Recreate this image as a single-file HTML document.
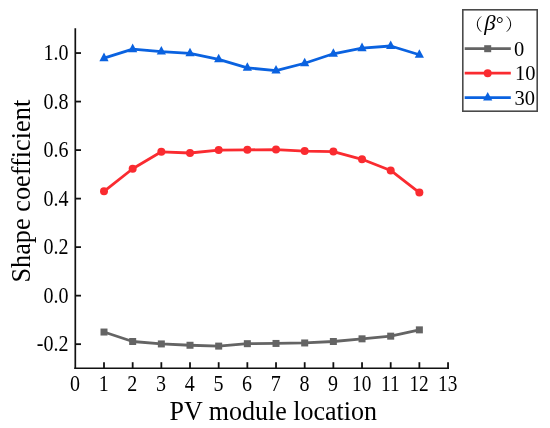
<!DOCTYPE html>
<html><head><meta charset="utf-8"><style>
html,body{margin:0;padding:0;background:#fff;}
svg{display:block;}
</style></head><body>
<svg width="550" height="428" viewBox="0 0 550 428">
<rect width="550" height="428" fill="#fff"/>
<g stroke="#111" stroke-width="1.8" fill="none">
<line x1="75.3" y1="28.2" x2="75.3" y2="369" stroke-width="1.7"/>
<line x1="74.3" y1="368.35" x2="449" y2="368.35" stroke-width="1.5"/>
<line x1="75" y1="53.05" x2="81" y2="53.05"/>
<line x1="75" y1="101.57" x2="81" y2="101.57"/>
<line x1="75" y1="150.09" x2="81" y2="150.09"/>
<line x1="75" y1="198.61" x2="81" y2="198.61"/>
<line x1="75" y1="247.13" x2="81" y2="247.13"/>
<line x1="75" y1="295.65000000000003" x2="81" y2="295.65000000000003"/>
<line x1="75" y1="344.17" x2="81" y2="344.17"/>
<line x1="104.00" y1="368" x2="104.00" y2="362.2"/>
<line x1="132.67" y1="368" x2="132.67" y2="362.2"/>
<line x1="161.34" y1="368" x2="161.34" y2="362.2"/>
<line x1="190.01" y1="368" x2="190.01" y2="362.2"/>
<line x1="218.68" y1="368" x2="218.68" y2="362.2"/>
<line x1="247.35" y1="368" x2="247.35" y2="362.2"/>
<line x1="276.02" y1="368" x2="276.02" y2="362.2"/>
<line x1="304.69" y1="368" x2="304.69" y2="362.2"/>
<line x1="333.36" y1="368" x2="333.36" y2="362.2"/>
<line x1="362.03" y1="368" x2="362.03" y2="362.2"/>
<line x1="390.70" y1="368" x2="390.70" y2="362.2"/>
<line x1="419.37" y1="368" x2="419.37" y2="362.2"/>
<line x1="448.04" y1="368" x2="448.04" y2="362.2"/>
</g>
<g font-family="'Liberation Serif', serif" font-size="23" fill="#000">
<text transform="translate(68.4,60.2) scale(0.87,1)" text-anchor="end">1.0</text>
<text transform="translate(68.4,108.8) scale(0.87,1)" text-anchor="end">0.8</text>
<text transform="translate(68.4,157.3) scale(0.87,1)" text-anchor="end">0.6</text>
<text transform="translate(68.4,205.8) scale(0.87,1)" text-anchor="end">0.4</text>
<text transform="translate(68.4,254.3) scale(0.87,1)" text-anchor="end">0.2</text>
<text transform="translate(68.4,302.9) scale(0.87,1)" text-anchor="end">0.0</text>
<text transform="translate(68.4,351.4) scale(0.87,1)" text-anchor="end">-0.2</text>
<text transform="translate(75.03,391) scale(0.87,1)" text-anchor="middle">0</text>
<text transform="translate(103.70,391) scale(0.87,1)" text-anchor="middle">1</text>
<text transform="translate(132.37,391) scale(0.87,1)" text-anchor="middle">2</text>
<text transform="translate(161.04,391) scale(0.87,1)" text-anchor="middle">3</text>
<text transform="translate(189.71,391) scale(0.87,1)" text-anchor="middle">4</text>
<text transform="translate(218.38,391) scale(0.87,1)" text-anchor="middle">5</text>
<text transform="translate(247.05,391) scale(0.87,1)" text-anchor="middle">6</text>
<text transform="translate(275.72,391) scale(0.87,1)" text-anchor="middle">7</text>
<text transform="translate(304.39,391) scale(0.87,1)" text-anchor="middle">8</text>
<text transform="translate(333.06,391) scale(0.87,1)" text-anchor="middle">9</text>
<text transform="translate(361.73,391) scale(0.84,1)" text-anchor="middle">10</text>
<text transform="translate(390.40,391) scale(0.84,1)" text-anchor="middle">11</text>
<text transform="translate(419.07,391) scale(0.84,1)" text-anchor="middle">12</text>
<text transform="translate(447.74,391) scale(0.84,1)" text-anchor="middle">13</text>
</g>
<g font-family="'Liberation Serif', serif" font-size="26" fill="#000">
<text transform="translate(169.5,419.5) scale(0.963,1)" font-size="27">PV module location</text>
<text transform="translate(29.6,282.6) rotate(-90)" font-size="26.3">Shape coefficient</text>
</g>
<polyline points="104.00,332.04 132.67,341.50 161.34,343.93 190.01,345.26 218.68,346.11 247.35,343.68 276.02,343.44 304.69,342.96 333.36,341.50 362.03,338.83 390.70,336.16 419.37,329.86" fill="none" stroke="#646464" stroke-width="2.8" stroke-linejoin="round"/>
<g fill="#646464">
<rect x="100.50" y="328.54" width="7" height="7"/>
<rect x="129.17" y="338.00" width="7" height="7"/>
<rect x="157.84" y="340.43" width="7" height="7"/>
<rect x="186.51" y="341.76" width="7" height="7"/>
<rect x="215.18" y="342.61" width="7" height="7"/>
<rect x="243.85" y="340.18" width="7" height="7"/>
<rect x="272.52" y="339.94" width="7" height="7"/>
<rect x="301.19" y="339.46" width="7" height="7"/>
<rect x="329.86" y="338.00" width="7" height="7"/>
<rect x="358.53" y="335.33" width="7" height="7"/>
<rect x="387.20" y="332.66" width="7" height="7"/>
<rect x="415.87" y="326.36" width="7" height="7"/>
</g>
<polyline points="104.00,191.33 132.67,168.77 161.34,151.79 190.01,153.00 218.68,150.09 247.35,149.85 276.02,149.60 304.69,151.06 333.36,151.55 362.03,159.31 390.70,170.47 419.37,192.54" fill="none" stroke="#FA2B30" stroke-width="2.8" stroke-linejoin="round"/>
<g fill="#FA2B30">
<circle cx="104.00" cy="191.33" r="4"/>
<circle cx="132.67" cy="168.77" r="4"/>
<circle cx="161.34" cy="151.79" r="4"/>
<circle cx="190.01" cy="153.00" r="4"/>
<circle cx="218.68" cy="150.09" r="4"/>
<circle cx="247.35" cy="149.85" r="4"/>
<circle cx="276.02" cy="149.60" r="4"/>
<circle cx="304.69" cy="151.06" r="4"/>
<circle cx="333.36" cy="151.55" r="4"/>
<circle cx="362.03" cy="159.31" r="4"/>
<circle cx="390.70" cy="170.47" r="4"/>
<circle cx="419.37" cy="192.54" r="4"/>
</g>
<polyline points="104.00,58.14 132.67,49.17 161.34,51.59 190.01,53.29 218.68,59.36 247.35,67.85 276.02,70.52 304.69,63.24 333.36,53.78 362.03,48.20 390.70,46.01 419.37,54.75" fill="none" stroke="#0A62E0" stroke-width="2.8" stroke-linejoin="round"/>
<g fill="#0A62E0">
<polygon points="104.00,52.54 99.40,61.14 108.60,61.14"/>
<polygon points="132.67,43.57 128.07,52.17 137.27,52.17"/>
<polygon points="161.34,45.99 156.74,54.59 165.94,54.59"/>
<polygon points="190.01,47.69 185.41,56.29 194.61,56.29"/>
<polygon points="218.68,53.76 214.08,62.36 223.28,62.36"/>
<polygon points="247.35,62.25 242.75,70.85 251.95,70.85"/>
<polygon points="276.02,64.92 271.42,73.52 280.62,73.52"/>
<polygon points="304.69,57.64 300.09,66.24 309.29,66.24"/>
<polygon points="333.36,48.18 328.76,56.78 337.96,56.78"/>
<polygon points="362.03,42.60 357.43,51.20 366.63,51.20"/>
<polygon points="390.70,40.41 386.10,49.01 395.30,49.01"/>
<polygon points="419.37,49.15 414.77,57.75 423.97,57.75"/>
</g>
<rect x="462.8" y="9.8" width="74.4" height="101.4" fill="none" stroke="#4a4a4a" stroke-width="1.6"/>
<g fill="#000">
<text x="465.8" y="30.5" font-family="'Liberation Serif', 'Noto Serif CJK SC', serif" font-size="17" font-weight="300">（</text>
<text transform="translate(484.2,30.0) scale(1.12,1)" font-family="'Liberation Serif', serif" font-size="20.3" font-style="italic">β</text>
<text x="496" y="30" font-family="'Liberation Serif', serif" font-size="19">°</text>
<text x="505.2" y="30.5" font-family="'Liberation Serif', 'Noto Serif CJK SC', serif" font-size="17" font-weight="300">）</text>
</g>
<line x1="464.7" y1="48.7" x2="510.8" y2="48.7" stroke="#646464" stroke-width="2.8"/>
<g fill="#646464"><rect x="484.20" y="45.20" width="7" height="7"/></g>
<text x="514" y="55.8" font-family="'Liberation Serif', serif" font-size="20.5" fill="#000">0</text>
<line x1="464.7" y1="73.2" x2="510.8" y2="73.2" stroke="#FA2B30" stroke-width="2.8"/>
<g fill="#FA2B30"><circle cx="487.70" cy="73.20" r="4"/></g>
<text x="515" y="80.3" font-family="'Liberation Serif', serif" font-size="20.5" fill="#000">10</text>
<line x1="464.7" y1="97.6" x2="510.8" y2="97.6" stroke="#0A62E0" stroke-width="2.8"/>
<g fill="#0A62E0"><polygon points="487.70,92.00 483.10,100.60 492.30,100.60"/></g>
<text x="514.6" y="104.7" font-family="'Liberation Serif', serif" font-size="20.5" fill="#000">30</text>
</svg>
</body></html>
